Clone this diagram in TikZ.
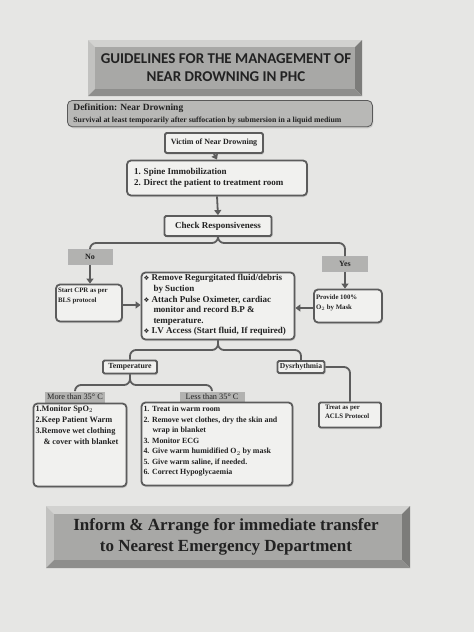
\documentclass[tikz,border=0pt]{standalone}
\usepackage{fontspec}
\setmainfont{Liberation Serif}
\newfontfamily\titlefont{Carlito}
\newfontfamily\symfont{DejaVu Sans}
\usetikzlibrary{arrows.meta,calc,shadows}
\definecolor{page}{HTML}{E6E6E4}
\definecolor{boxline}{HTML}{5C5C5C}
\definecolor{boxfill}{HTML}{F1F1EF}
\definecolor{tagfill}{HTML}{B2B2B0}
\definecolor{deffill}{HTML}{B8B8B6}
\definecolor{bevtop}{HTML}{D2D2D0}
\definecolor{bevleft}{HTML}{C2C2C0}
\definecolor{bevright}{HTML}{7C7C7A}
\definecolor{bevbot}{HTML}{8E8E8C}
\definecolor{bevface}{HTML}{A8A8A6}
\definecolor{ink}{HTML}{222222}
\newcommand\mybevel[5]{%
 \fill[bevtop] (#1,#2) -- (#3,#2) -- ({#3-#5},{#2+#5}) -- ({#1+#5},{#2+#5}) -- cycle;
 \fill[bevleft] (#1,#2) -- ({#1+#5},{#2+#5}) -- ({#1+#5},{#4-#5}) -- (#1,#4) -- cycle;
 \fill[bevright] (#3,#2) -- (#3,#4) -- ({#3-#5},{#4-#5}) -- ({#3-#5},{#2+#5}) -- cycle;
 \fill[bevbot] (#1,#4) -- (#3,#4) -- ({#3-#5},{#4-#5}) -- ({#1+#5},{#4-#5}) -- cycle;
 \fill[bevface] ({#1+#5},{#2+#5}) rectangle ({#3-#5},{#4-#5});
}
\newcommand\bul{{\symfont\fontsize{6.5}{8}\selectfont ❖}\ }
\begin{document}
\begin{tikzpicture}[x=1pt,y=-1pt,
  box/.style={draw=boxline, line width=1.8pt, fill=boxfill, rounded corners=4pt,
    text=ink, font=\bfseries\fontsize{8}{10}\selectfont, align=left, inner sep=2pt,
    drop shadow={opacity=0.25, shadow xshift=1pt, shadow yshift=-1.5pt}},
  sqbox/.style={box, rounded corners=1.5pt},
  tag/.style={draw=gray!60, line width=0.6pt, fill=tagfill, text=ink,
    font=\fontsize{8.3}{9}\selectfont, inner sep=1pt},
  conn/.style={draw=boxline, line width=1.8pt, rounded corners=6pt},
  arr/.style={conn, -{Triangle[width=7pt,length=5pt]}}
]
\fill[page] (0,0) rectangle (474,632);
\useasboundingbox (0,0) rectangle (474,632);

% title
\mybevel{88}{40}{362}{96}{7}
\node[text=ink, font=\titlefont\bfseries\fontsize{15}{18}\selectfont, align=center] (title) at (226,68)
  {GUIDELINES FOR THE MANAGEMENT OF\\NEAR DROWNING IN PHC};

% definition
\node[draw=gray!70!black, line width=0.8pt, fill=deffill, rounded corners=5pt, text=ink,
  align=left, inner xsep=6pt, inner ysep=3pt, anchor=north west,
  drop shadow={opacity=0.3, shadow xshift=1pt, shadow yshift=-1.5pt}] (def) at (67,100)
  {\parbox{293pt}{{\bfseries\fontsize{9.5}{10.5}\selectfont Definition: Near Drowning}\\
   {\bfseries\fontsize{7.8}{9.5}\selectfont Survival at least temporarily after suffocation by submersion in a liquid medium}}};

% main flow
\node[sqbox, minimum width=98pt, minimum height=20pt] (victim) at (214,143) {Victim of Near Drowning};
\node[box, minimum width=180pt, minimum height=35pt, font=\bfseries\fontsize{9}{11}\selectfont] (spine) at (217,178)
  {\parbox{166pt}{1. Spine Immobilization\\2. Direct the patient to treatment room}};
\node[sqbox, minimum width=107pt, minimum height=20pt, font=\bfseries\fontsize{9}{10}\selectfont] (check) at (218,226) {Check Responsiveness};

\node[tag, minimum width=44pt, minimum height=15pt, font=\bfseries\fontsize{8}{9}\selectfont] (no) at (90,257) {No};
\node[tag, minimum width=45pt, minimum height=15pt, font=\bfseries\fontsize{8}{9}\selectfont] (yes) at (345,264) {Yes};

\node[box, font=\bfseries\fontsize{6.8}{10}\selectfont] (cpr) at (89,303)
  {\parbox[c][33pt][t]{62pt}{\vspace*{1pt}Start CPR as per\\BLS protocol}};
\node[box, font=\bfseries\fontsize{6.8}{10}\selectfont] (oxy) at (348,306)
  {\parbox[c][29pt][t]{64pt}{\vspace*{3pt}Provide 100\%\\O$_{2}$ by Mask}};
\node[box, font=\bfseries\fontsize{9}{10.6}\selectfont] (central) at (218,306)
  {\parbox[c][63pt][t]{149pt}{\bul Remove Regurgitated fluid/debris\\\hspace*{10pt}by Suction\\
   \bul Attach Pulse Oximeter, cardiac\\\hspace*{10pt}monitor and record B.P \&\\\hspace*{10pt}temperature.\\
   \bul I.V Access (Start fluid, If required)}};

\node[sqbox, minimum width=54pt, minimum height=13pt, font=\bfseries\fontsize{7.8}{8}\selectfont] (temp) at (130,367) {Temperature};
\node[sqbox, minimum width=47pt, minimum height=12pt, font=\bfseries\fontsize{7.5}{8}\selectfont] (dys) at (301,367) {Dysrhythmia};
\node[sqbox, font=\bfseries\fontsize{6.8}{9}\selectfont] (acls) at (350,415)
  {\parbox[c][21pt][t]{58pt}{\vspace*{1pt}\hspace*{4pt}Treat as per\\\hspace*{4pt}ACLS Protocol}};

\node[tag, minimum width=60pt, minimum height=11pt, draw=none] (more) at (75,397) {More than 35° C};
\node[tag, minimum width=65pt, minimum height=11pt, draw=none] (less) at (212,397) {Less than 35° C};

\node[box, font=\bfseries\fontsize{8.3}{11}\selectfont] (mbox) at (80,445)
  {\parbox[c][79pt][t]{89pt}{1.Monitor SpO$_{2}$\\2.Keep Patient Warm\\3.Remove wet clothing\\\hspace*{8pt}\& cover with blanket}};
\node[box, font=\bfseries\fontsize{7.9}{10.5}\selectfont] (lbox) at (217,444)
  {\parbox[c][79pt][t]{147pt}{\vspace*{2pt}1. Treat in warm room\\2. Remove wet clothes, dry the skin and\\\hspace*{9pt}wrap in blanket\\3. Monitor ECG\\
   4. Give warm humidified O$_{2}$ by mask\\5. Give warm saline, if needed.\\6. Correct Hypoglycaemia}};

% banner
\mybevel{46}{506}{410}{568}{8}
\node[text=ink, font=\bfseries\fontsize{17}{21}\selectfont, align=center] (banner) at (226,537)
  {Inform \& Arrange for immediate transfer\\to Nearest Emergency Department};

% connectors
\draw[arr] (victim.south) -- (spine.north);
\draw[arr] (spine.south) -- (check.north);
\coordinate (b1) at (218,243);
\draw[conn] (check.south) -- (b1) -| (no.north);
\draw[conn] (check.south) -- (b1) -| (yes.north);
\draw[arr] (no.south) -- (cpr.north -| no.south);
\draw[arr] (yes.south) -- (oxy.north -| yes.south);
\draw[arr] (cpr.east |- 0,305) -- (central.west |- 0,305);
\draw[arr] (oxy.west |- 0,308) -- (central.east |- 0,308);
\coordinate (b2) at (218,350);
\draw[conn] (central.south) -- (b2) -| (temp.north);
\draw[conn] (central.south) -- (b2) -| (dys.north);
\draw[conn] (dys.east) -| (acls.north);
\coordinate (b3) at (130,385);
\draw[conn] (temp.south) -- (b3) -| (more.north);
\draw[conn] (temp.south) -- (b3) -| (less.north);
\end{tikzpicture}
\end{document}
